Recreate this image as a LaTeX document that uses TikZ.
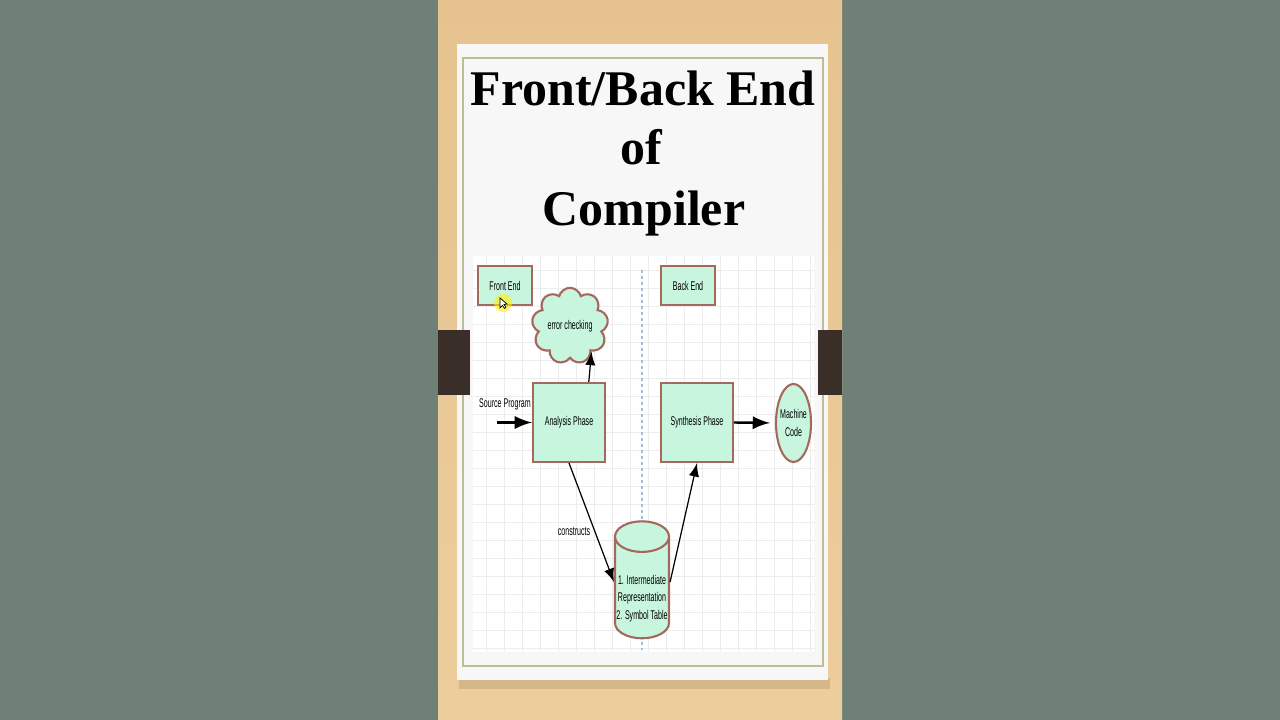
\documentclass[tikz,border=0pt]{standalone}
\usepackage{fontspec}
\setmainfont{Liberation Serif}
\newfontfamily\diafont[FakeStretch=0.56]{Liberation Sans}
\usepackage{xcolor}
\usetikzlibrary{calc}
\usetikzlibrary{arrows}
\usetikzlibrary{shapes.geometric}
\usetikzlibrary{shapes.symbols}

\definecolor{bggreen}{RGB}{111,128,118}
\definecolor{woodtop}{RGB}{230,195,142}
\definecolor{woodmid}{RGB}{241,216,176}
\definecolor{woodbot}{RGB}{236,205,156}
\definecolor{tabbrown}{RGB}{58,47,40}
\definecolor{mint}{RGB}{200,245,222}
\definecolor{edge}{RGB}{165,104,94}
\definecolor{gridgray}{RGB}{236,236,236}
\definecolor{dashblue}{RGB}{160,190,222}
\definecolor{frameline}{RGB}{190,190,150}

\tikzset{
  phase/.style={draw=edge,fill=mint,line width=0.6pt,minimum width=0.72cm,minimum height=0.79cm,
    inner sep=0pt,font=\diafont\fontsize{3.6}{5}\selectfont},
  endbox/.style={phase,minimum width=0.54cm,minimum height=0.39cm},
  lbl/.style={font=\diafont\fontsize{3.6}{5}\selectfont,inner sep=0pt},
  ttl/.style={font=\bfseries\fontsize{14.2}{17}\selectfont,anchor=base,inner sep=0pt}
}

\begin{document}
\begin{tikzpicture}
		\useasboundingbox (0,0) rectangle (12.8,7.2);
		\fill[bggreen] (0,0) rectangle (12.8,7.2);
		\shade[top color=woodtop,middle color=woodmid,bottom color=woodbot] (4.38,0) rectangle (8.42,7.2);
		\fill[black,opacity=0.10] (4.59,0.31) rectangle (8.30,0.42);
		\fill[white!97!black] (4.57,0.40) rectangle (8.28,6.76);
		\draw[frameline,line width=0.4pt] (4.63,0.54) rectangle (8.23,6.62);
		\fill[tabbrown] (4.38,3.25) rectangle (4.70,3.90);
		\fill[tabbrown] (8.18,3.25) rectangle (8.42,3.90);
		% title
		\node[ttl] (t1) at (6.43,6.14) {Front/Back End};
		\node[ttl] (t2) at (6.41,5.55) {of};
		\node[ttl] (t3) at (6.44,4.94) {Compiler};
		% diagram panel
		\fill[white] (4.73,0.68) rectangle (8.14,4.64);
		\draw[gridgray,line width=0.15pt,step=0.18] (4.73,0.68) grid (8.14,4.64);
		\draw[dashblue,line width=0.3pt,dash pattern=on 0.03cm off 0.03cm] (6.42,4.50) -- (6.42,0.70);
		\node[endbox] (fe) at (5.05,4.345) {Front End};
		\node[endbox] (be) at (6.88,4.345) {Back End};
		\node[phase,cloud,cloud puffs=9,aspect=1,minimum width=0.66cm,minimum height=0.64cm] (err) at (5.70,3.94) {error checking};
		\node[phase] (ana) at (5.69,2.975) {Analysis Phase};
		\node[phase] (syn) at (6.97,2.975) {Synthesis Phase};
		\node[phase,ellipse,minimum width=0.35cm,minimum height=0.78cm,align=center,inner xsep=-1pt] (mc) at (7.935,2.97) {Machine\\Code};
		\node[phase,cylinder,shape border rotate=90,aspect=0.6,minimum width=0.54cm,minimum height=1.17cm,align=center] (ir) at (6.42,1.32) {\mbox{}\\[3.6pt]1. Intermediate\\Representation\\2. Symbol Table};
		\node[lbl] (src) at (5.05,3.16) {Source Program};
		\node[lbl] (cons) at (5.74,1.89) {constructs};
		\coordinate (in) at (4.97,2.975);
		% cursor
		\fill[yellow,opacity=0.6] (5.03,4.17) circle (0.09);
		\draw[fill=white,line width=0.2pt] (5.00,4.22) -- (5.00,4.12) -- (5.025,4.145) -- (5.045,4.115) -- (5.06,4.125) -- (5.04,4.155) -- (5.07,4.16) -- cycle;
		% arrows
		\draw[-latex,line width=0.7pt] (in) -- (ana.west);
		\draw[-latex,line width=0.35pt] (ana.64) -- (err.310);
		\draw[-latex,line width=0.35pt] (ana.south) -- (ir.168);
		\draw[-latex,line width=0.35pt] (ir.12) -- (syn.south);
		\draw[-latex,line width=0.7pt,shorten >=0.05cm] (syn.east) -- (mc.west);
\end{tikzpicture}
\end{document}
